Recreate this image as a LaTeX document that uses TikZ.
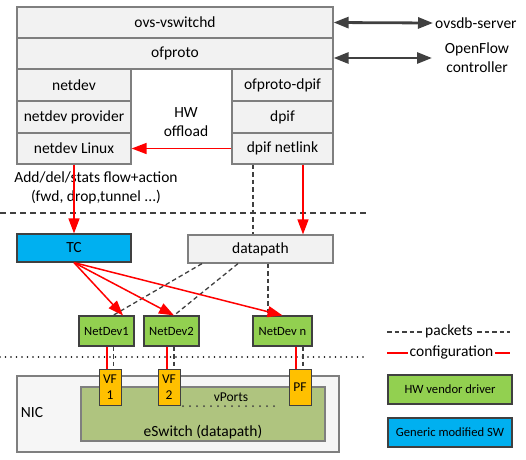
\documentclass[tikz,border=0pt]{standalone}
\usepackage{fontspec}
\setmainfont{Carlito}
\usepackage{xcolor}
\usetikzlibrary{positioning,calc}
\usetikzlibrary{arrows.meta}

\definecolor{boxgray}{HTML}{F2F2F2}
\definecolor{linegray}{HTML}{7F7F7F}
\definecolor{arrgray}{HTML}{404040}
\definecolor{tcblue}{HTML}{00B0F0}
\definecolor{drvgreen}{HTML}{92D050}
\definecolor{vforange}{HTML}{FFC000}
\definecolor{swolive}{HTML}{AFC47F}
\definecolor{nicgray}{HTML}{F6F6F6}

\newcommand\bigtxt{\fontsize{15.5}{19.5}\selectfont}
\newcommand\smalltxt{\fontsize{12.6}{15}\selectfont}
\newcommand\vftxt{\fontsize{13.5}{16}\selectfont}

\tikzset{
  box/.style={draw=linegray, line width=1.2pt, fill=boxgray, inner sep=0pt,
              minimum height=31pt, font=\bigtxt},
  drv/.style={draw=arrgray, line width=1.2pt, fill=drvgreen, inner sep=0pt,
              minimum height=30pt, font=\smalltxt},
  vf/.style={draw=arrgray, line width=1pt, fill=vforange, inner sep=0pt,
             minimum width=22pt, minimum height=36pt, align=center, font=\vftxt},
  cfg/.style={red, line width=1.5pt, -{Triangle[length=15pt,width=11pt]}},
  cfgline/.style={red, line width=2.2pt},
  pkt/.style={arrgray, line width=1.3pt, dash pattern=on 4.5pt off 3pt},
  biarrow/.style={arrgray, line width=2.8pt,
                  {Triangle[length=15pt,width=11pt]}-{Triangle[length=15pt,width=11pt]}},
}

\begin{document}
\begin{tikzpicture}[x=1pt, y=-1pt]
  \useasboundingbox (0,0) rectangle (526,459);

  % user space boxes
  \node[box, minimum width=316pt] (vsw) at (175,22.5) {ovs-vswitchd};
  \node[box, minimum width=316pt] (ofp) at (175,53.5) {ofproto};
  \node[box, minimum width=114pt, minimum height=32pt] (nd) at (74,85) {netdev};
  \node[box, minimum width=114pt, minimum height=32pt] (ndprov) at (74,117) {netdev provider};
  \node[box, minimum width=114pt] (ndlnx) at (74,148.5) {netdev Linux};
  \node[box, minimum width=101pt, minimum height=32pt] (ofdpif) at (282.5,85) {ofproto-dpif};
  \node[box, minimum width=101pt, minimum height=32pt] (dpif) at (282.5,117) {dpif};
  \node[box, minimum width=101pt] (dpifnl) at (282.5,148.5) {dpif netlink};

  % HW offload
  \node[align=center, font=\bigtxt] (hwoff) at (186,122) {HW\\offload};
  \draw[cfg] (dpifnl.west) -- (ndlnx.east);

  % outside peers
  \node[anchor=west, inner sep=2pt, font=\bigtxt] (ovsdb) at (433,23) {ovsdb-server};
  \draw[biarrow] (vsw.east) -- (ovsdb.west);
  \node[align=center, font=\bigtxt] (ofc) at (477,57.5) {OpenFlow\\controller};
  \coordinate (ofcin) at (432,58);
  \draw[biarrow] ([yshift=-4.5pt]ofp.east) -- (ofcin);

  % flow text
  \node[align=center, font=\bigtxt] (flowtxt) at (96,188) {Add/del/stats flow+action\\(fwd, drop,tunnel ...)};

  % user / kernel border
  \draw[arrgray, line width=1.2pt, dash pattern=on 6pt off 4pt] (0,213) -- (368,213);

  % kernel
  \node[box, draw=arrgray, fill=tcblue, minimum width=114pt, minimum height=28pt] (tc) at (74,248) {TC};
  \node[box, minimum width=145pt, minimum height=28pt] (dp) at (260.5,249) {datapath};
  \draw[cfg] (ndlnx.south) -- (tc.north);
  \draw[pkt] ([xshift=-29.5pt]dpifnl.south) -- ([xshift=-29.5pt]dpifnl.south |- dp.north);
  \draw[cfg] ([xshift=20.5pt]dpifnl.south) -- ([xshift=20.5pt]dpifnl.south |- dp.north);

  % netdevs
  \node[drv, minimum width=55pt] (nd1) at (106.5,331) {NetDev1};
  \node[drv, minimum width=55pt] (nd2) at (171.5,331) {NetDev2};
  \node[drv, minimum width=59pt] (ndn) at (282.5,331) {NetDev n};

  % packets from datapath
  \draw[pkt] ([xshift=-58.5pt]dp.south) -- ([xshift=6.5pt]nd1.north);
  \draw[pkt] ([xshift=-22.5pt]dp.south) -- ([xshift=2.5pt]nd2.north);
  \draw[pkt] ([xshift=7.5pt]dp.south) -- ([xshift=7.5pt]dp.south |- ndn.north);

  % configuration from TC
  \draw[cfg] (tc.south) -- ([xshift=16.5pt]nd1.north);
  \draw[cfg] (tc.south) -- ([xshift=2.5pt]nd2.north);
  \draw[cfg] (tc.south) -- (ndn.north);

  % kernel / hardware border
  \draw[black, line width=1.8pt, line cap=round, dash pattern=on 0pt off 5.5pt] (0,357) -- (368,357);

  % NIC and eSwitch
  \node[draw=linegray, line width=1.2pt, fill=nicgray, minimum width=322pt, minimum height=76pt] (nic) at (178,414) {};
  \node[font=\bigtxt] (niclbl) at (32,413) {NIC};
  \node[draw=linegray, line width=1.2pt, fill=swolive, minimum width=244pt, minimum height=54pt] (esw) at (203,414) {};
  \node[font=\bigtxt] (eswlbl) at (203,432) {eSwitch (datapath)};
  \node[font=\vftxt] (vports) at (231,397) {vPorts};
  \draw[arrgray, line width=2pt, line cap=round, dash pattern=on 0pt off 7pt] (183,406) -- (280,406);

  % vports
  \node[vf] (vf1) at (110,387) {VF\\1};
  \node[vf] (vf2) at (169,387) {VF\\2};
  \node[vf] (pf) at (300,387) {PF};

  % netdev to vport
  \draw[cfgline] ([xshift=-3pt]vf1.north |- nd1.south) -- ([xshift=-3pt]vf1.north);
  \draw[pkt] ([xshift=3.5pt]vf1.north |- nd1.south) -- ([xshift=3.5pt]vf1.north);
  \draw[cfgline] ([xshift=-2pt]vf2.north |- nd2.south) -- ([xshift=-2pt]vf2.north);
  \draw[pkt] ([xshift=5pt]vf2.north |- nd2.south) -- ([xshift=5pt]vf2.north);
  \draw[cfgline] ([xshift=-4pt]pf.north |- ndn.south) -- ([xshift=-4pt]pf.north);
  \draw[pkt] ([xshift=3pt]pf.north |- ndn.south) -- ([xshift=3pt]pf.north);

  % legend
  \coordinate (pktL) at (387,332);
  \coordinate (pktR) at (510,332);
  \draw[pkt] (pktL) -- (pktR);
  \node[fill=white, inner sep=1.5pt, font=\bigtxt] (pktlbl) at (449,331) {packets};
  \coordinate (cfgL) at (387,353);
  \coordinate (cfgR) at (510,353);
  \draw[red, line width=1.5pt] (cfgL) -- (cfgR);
  \node[fill=white, inner sep=2pt, font=\bigtxt] (cfglbl) at (451.5,352) {configuration};
  \node[drv, minimum width=124pt, minimum height=29pt] (lgdrv) at (450,389.5) {HW vendor driver};
  \node[drv, fill=tcblue, minimum width=124pt, minimum height=29pt] (lgsw) at (450,432.5) {Generic modified SW};
\end{tikzpicture}
\end{document}
